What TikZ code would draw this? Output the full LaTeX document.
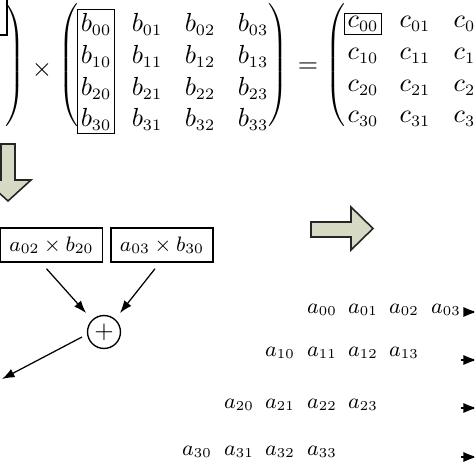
\RequirePackage{fix-cm}
\documentclass[tikz,border=0pt]{standalone}
\usetikzlibrary{arrows.meta,calc,fit}
\DeclareMathSizes{11.5}{11.5}{7}{5}
\DeclareMathSizes{9.2}{9.2}{6.3}{5}
\DeclareMathSizes{9.5}{9.5}{6}{5}
\definecolor{arrowfill}{RGB}{214,217,196}
\begin{document}
\begin{tikzpicture}[x=0.44pt,y=-0.44pt,
  ent/.style={inner sep=0pt, font=\fontsize{11.5}{13}\selectfont},
  sent/.style={inner sep=0pt, font=\fontsize{9.5}{11}\selectfont},
  boxn/.style={draw, line width=0.6pt, inner xsep=4pt, inner ysep=3pt, minimum height=15pt, font=\fontsize{9.2}{11}\selectfont},
  fitbox/.style={draw, line width=0.6pt, inner sep=1.2pt},
  blk/.style={draw=black!85, line width=0.7pt, fill=arrowfill, line join=miter},
  arr/.style={-{Latex[length=5.5pt,width=4pt]}, line width=0.55pt},
  rarr/.style={-{Latex[length=6pt,width=4.5pt]}, line width=0.6pt},
  par/.style={inner sep=0pt}]
\useasboundingbox (0,0) rectangle (474,474);
\clip (0,0) rectangle (474,474);

% partial box of the matrix A (cut off)
\draw[line width=0.6pt] (-40,-10) rectangle (7,35);
\node[par] (pAr) at (14,67) {$\left.\rule[-26pt]{0pt}{52pt}\right)$};
\node[ent] (times) at (42,70) {$\times$};

% matrix B
\node[par] (pBl) at (70,67) {$\left(\rule[-26pt]{0pt}{52pt}\right.$};
\foreach \r/\y in {0/24,1/56,2/88,3/119}{
  \foreach \c/\x in {0/96,1/147,2/200,3/253}{
    \node[ent] (b\r\c) at (\x,\y) {$b_{\r\c}$};
  }
}
\node[par] (pBr) at (277,67) {$\left.\rule[-26pt]{0pt}{52pt}\right)$};
\node[fitbox, fit=(b00)(b30)] (bcol) {};

\node[ent] (eq) at (308,68) {$=$};

% matrix C
\node[par] (pCl) at (337,67) {$\left(\rule[-26pt]{0pt}{52pt}\right.$};
\foreach \r/\y in {0/24,1/56,2/88,3/119}{
  \foreach \c/\x in {0/363,1/415,2/469}{
    \node[ent] (c\r\c) at (\x,\y) {$c_{\r\c}$};
  }
}
\node[fitbox, fit=(c00)] (cbox) {};

% block arrows
\draw[blk] (1,144) -- (15,144) -- (15,180) -- (31,180) -- (8,201) -- (-15,180) -- (1,180) -- cycle;
\draw[blk] (311,222) -- (351,222) -- (351,207) -- (373,228.5) -- (351,250) -- (351,237) -- (311,237) -- cycle;

% products and sum
\node[boxn] (p1) at (51.5,245) {$a_{02}\times b_{20}$};
\node[boxn] (p2) at (162,245) {$a_{03}\times b_{30}$};
\node[draw, circle, line width=0.6pt, minimum size=14.5pt, inner sep=0pt, font=\fontsize{11}{12}\selectfont] (plus) at (104,332) {$+$};
\coordinate (out) at (2,379);
\draw[arr] ($(p1.south)+(-5,6)$) -- ($(plus.center)+(-18,-19)$);
\draw[arr] ($(p2.south)+(-7,6)$) -- ($(plus.center)+(16,-19)$);
\draw[arr] ($(plus.center)+(-22,5)$) -- (out);

% skewed matrix A
\foreach \c/\x in {0/322,1/363,2/404,3/446}{\node[sent] (a0\c) at (\x,310) {$a_{0\c}$};}
\foreach \c/\x in {0/280,1/322,2/363,3/404}{\node[sent] (a1\c) at (\x,353) {$a_{1\c}$};}
\foreach \c/\x in {0/239,1/280,2/322,3/363}{\node[sent] (a2\c) at (\x,405) {$a_{2\c}$};}
\foreach \c/\x in {0/197,1/239,2/280,3/322}{\node[sent] (a3\c) at (\x,452) {$a_{3\c}$};}

\coordinate (r1s) at (461,360); \coordinate (r1e) at (477,360);
\coordinate (r2s) at (461,408); \coordinate (r2e) at (477,408);
\coordinate (r3s) at (461,457); \coordinate (r3e) at (477,457);
\coordinate (r0e) at (477,312);
\draw[rarr] ($(a03.east)+(3,2)$) -- (r0e);
\draw[rarr] (r1s) -- (r1e);
\draw[rarr] (r2s) -- (r2e);
\draw[rarr] (r3s) -- (r3e);
\end{tikzpicture}
\end{document}
